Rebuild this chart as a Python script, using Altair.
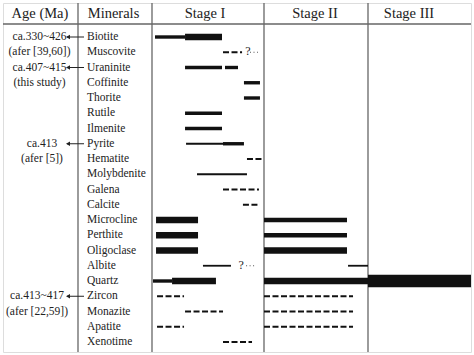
import altair as alt
import pandas as pd

FONT = "'Liberation Serif', 'Times New Roman', Times, 'DejaVu Serif', serif"
INK = "#111111"
LINE = "#666666"

minerals = ["Biotite", "Muscovite", "Uraninite", "Coffinite", "Thorite", "Rutile",
            "Ilmenite", "Pyrite", "Hematite", "Molybdenite", "Galena", "Calcite",
            "Microcline", "Perthite", "Oligoclase", "Albite", "Quartz", "Zircon",
            "Monazite", "Apatite", "Xenotime"]

stages = ["Stage I", "Stage II", "Stage III"]

# segments along the stage timeline (0-1 Stage I, 1-2 Stage II, 2-3 Stage III)
seg_mineral = ["Biotite", "Biotite", "Muscovite", "Muscovite", "Uraninite", "Uraninite",
               "Coffinite", "Thorite", "Rutile", "Ilmenite", "Pyrite", "Pyrite",
               "Hematite", "Molybdenite", "Galena", "Calcite",
               "Microcline", "Microcline", "Perthite", "Perthite", "Oligoclase", "Oligoclase",
               "Albite", "Albite", "Albite",
               "Quartz", "Quartz", "Quartz", "Quartz",
               "Zircon", "Zircon", "Monazite", "Monazite", "Apatite", "Apatite", "Xenotime"]
seg_start = [0.027, 0.295, 0.634, 0.875, 0.295, 0.652,
             0.821, 0.821, 0.295, 0.295, 0.304, 0.634,
             0.848, 0.402, 0.634, 0.812,
             0.036, 1.0, 0.036, 1.0, 0.036, 1.0,
             0.455, 0.84, 1.808,
             0.009, 0.179, 1.0, 2.0,
             0.045, 1.0, 0.295, 1.0, 0.045, 1.0, 0.634]
seg_end = [0.295, 0.625, 0.804, 0.946, 0.625, 0.768,
           0.964, 0.964, 0.625, 0.625, 0.634, 0.821,
           0.991, 0.848, 0.955, 0.964,
           0.411, 1.798, 0.411, 1.798, 0.411, 1.798,
           0.705, 0.93, 2.0,
           0.179, 0.571, 2.0, 3.0,
           0.286, 1.856, 0.634, 1.856, 0.286, 1.856, 0.893]
seg_kind = ["medium", "thick", "dashed", "dotted", "medium", "medium",
            "medium", "medium", "medium", "medium", "thin", "medium",
            "dashed", "thin", "dashed", "dashed",
            "thick", "bold", "thick", "bold", "thick", "thick",
            "thin", "dotted", "thin",
            "medium", "thick", "thick", "heavy",
            "dashed", "dashed", "dashed", "dashed", "dashed", "dashed", "dashed"]

# uncertain ("?") markers
q_mineral = ["Muscovite", "Albite"]
q_pos = [0.857, 0.795]

# age annotations
age_mineral = ["Biotite", "Muscovite", "Uraninite", "Coffinite",
               "Pyrite", "Hematite", "Zircon", "Monazite"]
age_text = ["ca.330~426", "(afer [39,60])", "ca.407~415", "(this study)",
            "ca.413", "(afer [5])", "ca.413~417", "(afer [22,59])"]
age_group = ["a", "a", "a", "a", "b", "b", "c", "c"]
arrow_mineral = ["Biotite", "Uraninite", "Pyrite", "Zircon"]

seg_df = pd.DataFrame({"mineral": seg_mineral, "start": seg_start,
                       "end": seg_end, "kind": seg_kind})
min_df = pd.DataFrame({"mineral": minerals})
q_df = pd.DataFrame({"mineral": q_mineral, "pos": q_pos})
age_df = pd.DataFrame({"mineral": age_mineral, "text": age_text, "group": age_group})
arrow_df = pd.DataFrame({"mineral": arrow_mineral})
one = pd.DataFrame({"k": [0]})

W, H = 468, 349
xscale = alt.Scale(domain=[0, 1, 2, 3], range=[149, 261, 365, 468], nice=False, zero=False)
yscale = alt.Scale(type="point", domain=minerals, range=[34, 339], padding=0)
Y = alt.Y("mineral:N", scale=yscale, axis=None)

layers = []

# table grid lines
for v in [75, 149, 261, 365]:
    layers.append(alt.Chart(one).mark_rule(color=LINE, strokeWidth=1.3).encode(
        x=alt.value(v), y=alt.value(0), y2=alt.value(H)))
layers.append(alt.Chart(one).mark_rule(color=LINE, strokeWidth=1.3).encode(
    x=alt.value(0), x2=alt.value(W), y=alt.value(21)))

# headers
head_x = [37, 110.5, 202, 312, 406]
for h, hx in zip(["Age (Ma)", "Minerals"] + stages, head_x):
    layers.append(alt.Chart(pd.DataFrame({"h": [h]})).mark_text(
        font=FONT, fontSize=14.5, color="#222", align="center", baseline="middle").encode(
        x=alt.value(hx), y=alt.value(11), text="h:N"))

# solid segments, one layer per line weight
for kind, w in [("thin", 1.8), ("medium", 3.4), ("bold", 4.5), ("thick", 6.5), ("heavy", 12.5)]:
    layers.append(alt.Chart(seg_df).transform_filter(alt.datum.kind == kind).mark_rule(
        color=INK, strokeWidth=w).encode(
        x=alt.X("start:Q", scale=xscale, axis=None), x2="end:Q", y=Y))
# dashed
layers.append(alt.Chart(seg_df).transform_filter(alt.datum.kind == "dashed").mark_rule(
    color=INK, strokeWidth=2.2, strokeDash=[6, 2.5]).encode(
    x=alt.X("start:Q", scale=xscale, axis=None), x2="end:Q", y=Y))
# dotted
layers.append(alt.Chart(seg_df).transform_filter(alt.datum.kind == "dotted").mark_rule(
    color="#555", strokeWidth=1.2, strokeDash=[1, 2.5]).encode(
    x=alt.X("start:Q", scale=xscale, axis=None), x2="end:Q", y=Y))
# question marks
layers.append(alt.Chart(q_df).mark_text(font=FONT, fontSize=12, color="#222",
                                        align="center", baseline="middle", dy=-1).encode(
    x=alt.X("pos:Q", scale=xscale, axis=None), y=Y, text=alt.value("?")))

# mineral names
layers.append(alt.Chart(min_df).mark_text(font=FONT, fontSize=11.5, color="#222",
                                          align="left", baseline="middle").encode(
    x=alt.value(84), y=Y, text="mineral:N"))

# age texts
for g, gx in [("a", 36.5), ("b", 39), ("c", 34)]:
    layers.append(alt.Chart(age_df).transform_filter(alt.datum.group == g).mark_text(
        font=FONT, fontSize=11.5, color="#222", align="center", baseline="middle").encode(
        x=alt.value(gx), y=Y, text="text:N"))

# arrows
layers.append(alt.Chart(arrow_df).mark_rule(color="#222", strokeWidth=1).encode(
    x=alt.value(64), x2=alt.value(81), y=Y))
layers.append(alt.Chart(arrow_df).mark_point(shape="triangle-left", filled=True,
                                             color="#222", size=22, opacity=1).encode(
    x=alt.value(65), y=Y))

chart = alt.layer(*layers).properties(
    width=W, height=H,
    autosize=alt.AutoSizeParams(type="none"),
    padding={"left": 3, "top": 3, "right": 3, "bottom": 3},
).configure_view(stroke="#555", strokeWidth=1.5).configure(background="white")

chart.save("out.html", embed_options={"renderer": "svg", "actions": False})
